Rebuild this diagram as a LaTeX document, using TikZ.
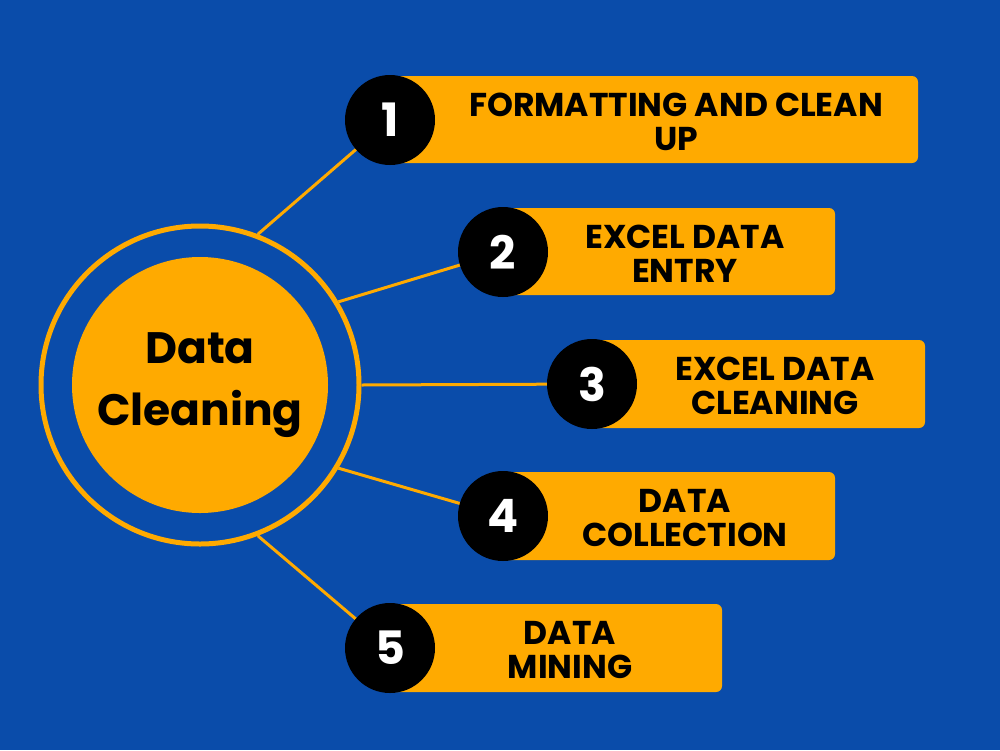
\documentclass[tikz,border=0pt]{standalone}
\usepackage{fontspec}
\setmainfont{Poppins}
\definecolor{bg}{RGB}{10,76,170}
\definecolor{org}{RGB}{255,170,0}
\begin{document}
\begin{tikzpicture}[x=1pt,y=-1pt,
  box/.style={fill=org,rounded corners=6pt},
  num/.style={circle,fill=black,minimum size=90pt,inner sep=0pt,text=white,font=\bfseries\fontsize{46}{46}\selectfont},
  lbl/.style={align=center,font=\bfseries\fontsize{33}{34}\selectfont,text=black},
  conn/.style={draw=org,line width=3pt}]
\fill[bg] (0,0) rectangle (1000,750);
\useasboundingbox (0,0) rectangle (1000,750);
\node[circle,draw=org,line width=5pt,minimum size=318pt,inner sep=0pt] (ring) at (200,385) {};
\node[circle,fill=org,minimum size=256pt,inner sep=0pt,align=center,font=\bfseries\fontsize{44}{62}\selectfont,text=black] (core) at (200,385) {Data\\Cleaning};
\fill[box] (390,76) rectangle (918,163);
\fill[box] (500,208) rectangle (835,295);
\fill[box] (590,340) rectangle (925,428);
\fill[box] (500,472) rectangle (835,560);
\fill[box] (390,604) rectangle (722,692);
\node[lbl] (t1) at (676,122) {FORMATTING AND CLEAN\\UP};
\node[lbl] (t2) at (685,254) {EXCEL DATA\\ENTRY};
\node[lbl] (t3) at (775,386) {EXCEL DATA\\CLEANING};
\node[lbl] (t4) at (685,518) {DATA\\COLLECTION};
\node[lbl] (t5) at (570,650) {DATA\\MINING};
\coordinate (c1) at (390,120);
\coordinate (c2) at (503,252);
\coordinate (c3) at (592,384);
\coordinate (c4) at (503,516);
\coordinate (c5) at (390,648);
\path[conn] (ring.69) -- (c1);
\path[conn] (ring.31) -- (c2);
\path[conn] (ring.0) -- (c3);
\path[conn] (ring.-31) -- (c4);
\path[conn] (ring.-69) -- (c5);
\node[num] (n1) at (c1) {1};
\node[num] (n2) at (c2) {2};
\node[num] (n3) at (c3) {3};
\node[num] (n4) at (c4) {4};
\node[num] (n5) at (c5) {5};
\end{tikzpicture}
\end{document}
